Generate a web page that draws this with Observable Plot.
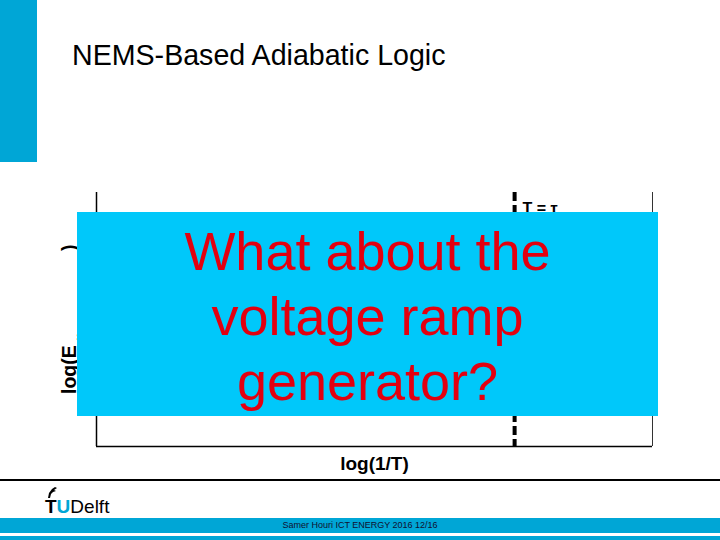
<!DOCTYPE html>
<html>
<head>
<meta charset="utf-8">
<script src="https://cdn.jsdelivr.net/npm/d3@7"></script>
<script src="https://cdn.jsdelivr.net/npm/@observablehq/plot@0.6"></script>
<style>
  html, body { margin:0; padding:0; background:#fff; }
  #slide { position:relative; width:720px; height:540px; overflow:hidden; background:#fff; font-family:"Liberation Sans", Arial, sans-serif; }
  #slide > * { position:absolute; }
  #chart { left:0; top:0; }
  .sidebar { left:0; top:0; width:37px; height:162px; background:#00a6d6; }
  .title { left:72px; top:37px; font-size:28.6px; line-height:36px; color:#000; white-space:nowrap; }
  .overlay { left:77px; top:212px; width:581px; height:204px; background:#00c8fa; color:#e3000f; text-align:center; font-size:54px; line-height:65px; padding-top:7px; box-sizing:border-box; }
  .footline { left:0; top:479px; width:720px; height:2px; background:#000; }
  .logo { left:45px; top:495px; font-size:19px; line-height:24px; white-space:nowrap; }
  .logo .t { font-weight:bold; color:#000; }
  .logo .u { font-weight:bold; color:#00a6d6; }
  .flame { left:46px; top:487px; width:12px; height:11px; }
  .band { left:0; top:518px; width:720px; height:15px; background:#00a6d6; }
  .band2 { left:0; top:536px; width:720px; height:4px; background:#00a6d6; }
  .foot { left:0; top:518px; width:720px; text-align:center; font-size:9px; line-height:15px; color:#101030; }
</style>
</head>
<body>
<div id="slide">
  <div class="sidebar"></div>
  <div class="title" id="title"></div>
  <div id="chart"></div>
  <div class="overlay" id="overlay"></div>
  <div class="footline"></div>
  <svg class="flame" viewBox="0 0 12 11"><path d="M2 11 L3 6 L6 2 L9 0 L11 1 L8 3 L10 4 L7 5 L5 7 L4 11 Z" fill="#000"/></svg>
  <div class="logo"><span class="t">T</span><span class="u">U</span><span>Delft</span></div>
  <div class="band"></div>
  <div class="band2"></div>
  <div class="foot" id="foot"></div>
</div>
<script>
// Slide texts
const slideTitle = "NEMS-Based Adiabatic Logic";
const overlayLines = ["What about the", "voltage ramp", "generator?"];
const footerText = "Samer Houri ICT ENERGY 2016 12/16";

// Chart values (normalized log axes)
const xDomain = [0, 1];
const yDomain = [0, 1];
const tauPosition = [0.752];
const tauLabel = ["T = τ"];
const xLabel = ["log(1/T)"];
const yLabelMain = "log(E";
const yLabelSub = "diss";
const yLabelEnd = ")";

document.getElementById("title").textContent = slideTitle;
document.getElementById("foot").textContent = footerText;
const ov = document.getElementById("overlay");
overlayLines.forEach(l => { const d = document.createElement("div"); d.textContent = l; ov.appendChild(d); });

const chart = Plot.plot({
  width: 720,
  height: 540,
  marginLeft: 96,
  marginRight: 68,
  marginTop: 192,
  marginBottom: 94,
  style: { background: "transparent", fontFamily: "Liberation Sans, Arial, sans-serif" },
  x: { domain: xDomain, axis: null },
  y: { domain: yDomain, axis: null },
  marks: [
    Plot.ruleX([xDomain[1]], { stroke: "#333", strokeWidth: 1 }),
    Plot.ruleX([xDomain[0]], { stroke: "#000", strokeWidth: 1.5 }),
    Plot.ruleY([yDomain[0]], { stroke: "#000", strokeWidth: 1.5 }),
    Plot.ruleX(tauPosition, { stroke: "#000", strokeWidth: 4, strokeDasharray: "9,4" }),
    Plot.text(tauLabel, { x: tauPosition[0], y: yDomain[1], dx: 8, dy: 16, textAnchor: "start", fontWeight: "bold", fontSize: 16, fill: "#000" }),
    Plot.text(xLabel, { frameAnchor: "bottom", lineAnchor: "middle", dy: 17, fontWeight: "bold", fontSize: 19, fill: "#000" })
  ]
});
document.getElementById("chart").appendChild(chart);

// rotated y label (largely hidden by the overlay box)
const svg = d3.select(chart);
const yl = svg.append("text")
  .attr("transform", "translate(76,394) rotate(-90)")
  .attr("text-anchor", "start")
  .attr("font-weight", "bold")
  .attr("font-size", 19.5)
  .attr("font-family", "Liberation Sans, Arial, sans-serif")
  .attr("fill", "#000");
yl.append("tspan").text(yLabelMain);
yl.append("tspan").attr("font-size", 13).attr("dy", 10).text(yLabelSub);
yl.append("tspan").attr("x", 143).attr("dy", -10).text(yLabelEnd);
</script>
</body>
</html>
